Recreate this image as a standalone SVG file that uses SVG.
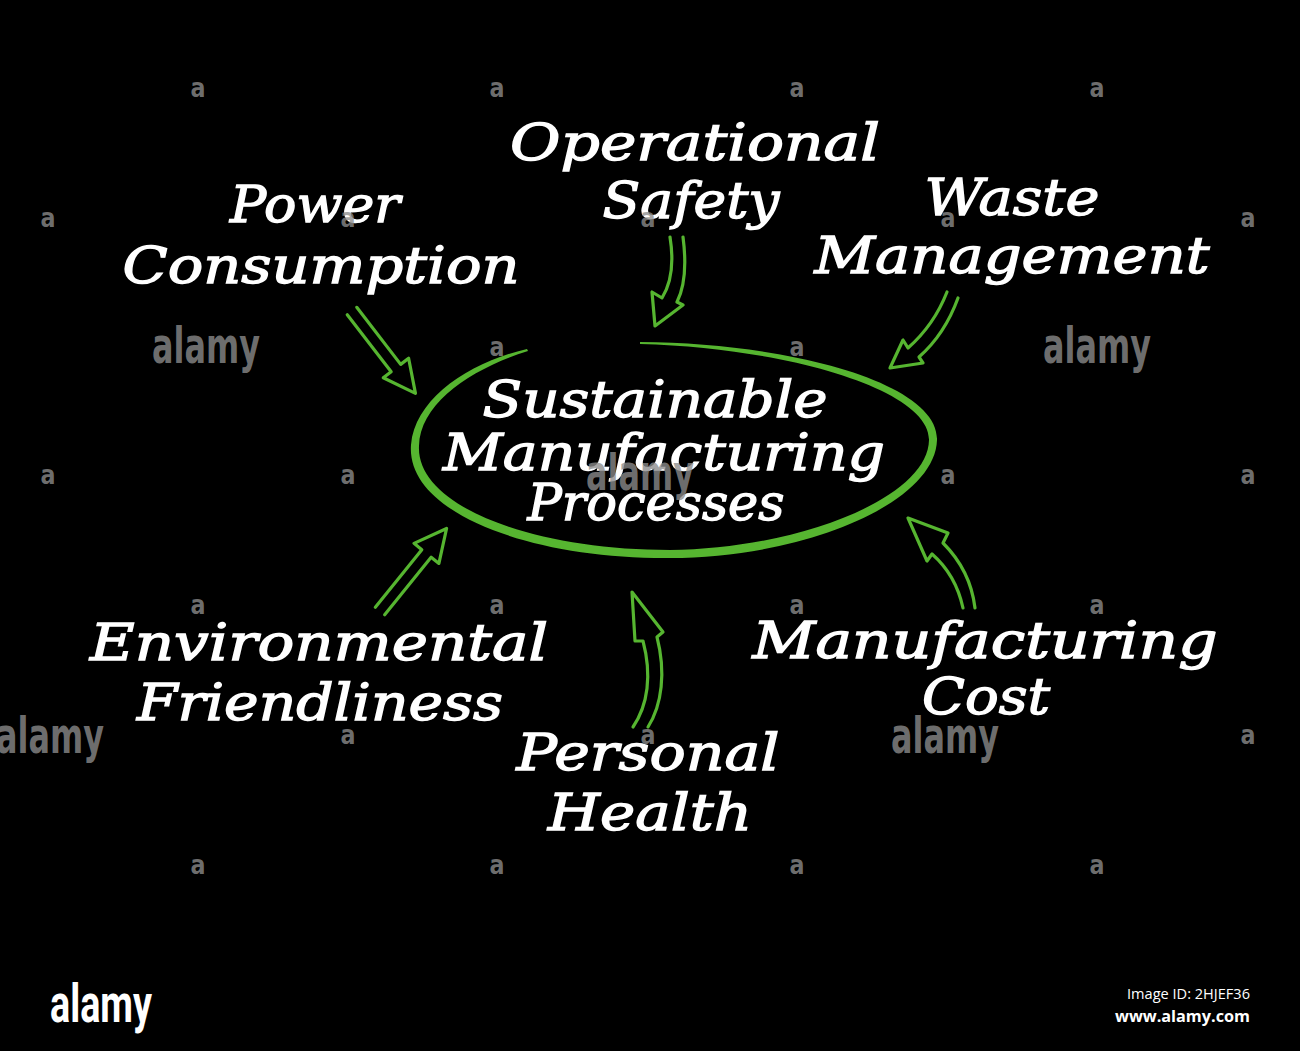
<svg xmlns="http://www.w3.org/2000/svg" width="1300" height="1051" viewBox="0 0 1300 1051">
<defs>
<style>
.lbl{font-family:"DejaVu Serif","Liberation Serif",serif;font-style:italic;font-size:50px;fill:#ffffff;stroke:#ffffff;stroke-width:1.3;text-anchor:middle}
.arr{fill:none;stroke:#56b530;stroke-width:3.2;stroke-linejoin:round;stroke-linecap:round}
.wm{font-family:"DejaVu Sans","Liberation Sans",sans-serif;font-weight:bold;fill:#8c8c8c;fill-opacity:0.8;text-anchor:middle}
.wa{font-size:26px}
.wb{font-size:50px}
.foot{font-family:"Open Sans","DejaVu Sans",sans-serif;fill:#ffffff}
</style>
</defs>
<rect x="0" y="0" width="1300" height="1051" fill="#000000"/>

<g id="connectors">
<path class="arr" transform="translate(352,311) rotate(52.4)" d="M0,-6 L72,-6 L72,-16 L104,0 L72,16 L72,6 L0,6"/>
<path class="arr" transform="translate(380,611) rotate(-51.1)" d="M0,-6 L74,-6 L74,-16 L106,0 L74,16 L74,6 L0,6"/>
<path class="arr" d="M670,237 C674,262 672,282 662,298 L652,292 L655,326 L683,305 L677,302 C686,284 686,260 683,237"/>
<path class="arr" d="M947,292 C938,315 925,333 908,348 L903,340 L890,368 L923,363 L919,357 C936,342 950,320 958,298"/>
<path class="arr" d="M633,727 C648,705 652,675 643,641 L635,641 L632,592 L663,632 L657,637 C666,672 662,705 648,727"/>
<path class="arr" d="M963,608 C958,585 948,568 932,554 L927,561 L908,518 L948,533 L943,543 C960,560 972,583 975,608"/>
</g>

<g id="center">
<path fill="#56b530" d="M640,342 C790,343 939,383 937,440 C935,504 802,558 670,558 C528,559 406,512 411,445 C415,398 470,362 527,349 L528,351 C474,368 420,402 419,446 C416,506 532,550 670,550 C798,549 928,498 929,440 C930,390 788,348 640,344 Z"/>
<text class="lbl" x="655" y="417" textLength="345" lengthAdjust="spacingAndGlyphs">Sustainable</text>
<text class="lbl" x="664" y="470" textLength="442" lengthAdjust="spacingAndGlyphs">Manufacturing</text>
<text class="lbl" x="656" y="520" textLength="257" lengthAdjust="spacingAndGlyphs">Processes</text>
</g>

<g id="power">
<text class="lbl" x="315" y="222" textLength="170" lengthAdjust="spacingAndGlyphs">Power</text>
<text class="lbl" x="321" y="283" textLength="397" lengthAdjust="spacingAndGlyphs">Consumption</text>
</g>
<g id="safety">
<text class="lbl" x="695" y="160" textLength="370" lengthAdjust="spacingAndGlyphs">Operational</text>
<text class="lbl" x="691" y="218" textLength="177" lengthAdjust="spacingAndGlyphs">Safety</text>
</g>
<g id="waste">
<text class="lbl" x="1012" y="215" textLength="175" lengthAdjust="spacingAndGlyphs">Waste</text>
<text class="lbl" x="1012" y="273" textLength="395" lengthAdjust="spacingAndGlyphs">Management</text>
</g>
<g id="environment">
<text class="lbl" x="319" y="660" textLength="458" lengthAdjust="spacingAndGlyphs">Environmental</text>
<text class="lbl" x="320" y="720" textLength="366" lengthAdjust="spacingAndGlyphs">Friendliness</text>
</g>
<g id="cost">
<text class="lbl" x="985" y="658" textLength="465" lengthAdjust="spacingAndGlyphs">Manufacturing</text>
<text class="lbl" x="986" y="714" textLength="128" lengthAdjust="spacingAndGlyphs">Cost</text>
</g>
<g id="health">
<text class="lbl" x="648" y="770" textLength="263" lengthAdjust="spacingAndGlyphs">Personal</text>
<text class="lbl" x="650" y="830" textLength="204" lengthAdjust="spacingAndGlyphs">Health</text>
</g>

<g id="watermark">
<text class="wm wa" x="198" y="97" textLength="15" lengthAdjust="spacingAndGlyphs">a</text>
<text class="wm wa" x="497" y="97" textLength="15" lengthAdjust="spacingAndGlyphs">a</text>
<text class="wm wa" x="797" y="97" textLength="15" lengthAdjust="spacingAndGlyphs">a</text>
<text class="wm wa" x="1097" y="97" textLength="15" lengthAdjust="spacingAndGlyphs">a</text>
<text class="wm wa" x="48" y="227" textLength="15" lengthAdjust="spacingAndGlyphs">a</text>
<text class="wm wa" x="348" y="227" textLength="15" lengthAdjust="spacingAndGlyphs">a</text>
<text class="wm wa" x="648" y="227" textLength="15" lengthAdjust="spacingAndGlyphs">a</text>
<text class="wm wa" x="948" y="227" textLength="15" lengthAdjust="spacingAndGlyphs">a</text>
<text class="wm wa" x="1248" y="227" textLength="15" lengthAdjust="spacingAndGlyphs">a</text>
<text class="wm wa" x="497" y="356" textLength="15" lengthAdjust="spacingAndGlyphs">a</text>
<text class="wm wa" x="797" y="356" textLength="15" lengthAdjust="spacingAndGlyphs">a</text>
<text class="wm wa" x="48" y="484" textLength="15" lengthAdjust="spacingAndGlyphs">a</text>
<text class="wm wa" x="348" y="484" textLength="15" lengthAdjust="spacingAndGlyphs">a</text>
<text class="wm wa" x="948" y="484" textLength="15" lengthAdjust="spacingAndGlyphs">a</text>
<text class="wm wa" x="1248" y="484" textLength="15" lengthAdjust="spacingAndGlyphs">a</text>
<text class="wm wa" x="198" y="614" textLength="15" lengthAdjust="spacingAndGlyphs">a</text>
<text class="wm wa" x="497" y="614" textLength="15" lengthAdjust="spacingAndGlyphs">a</text>
<text class="wm wa" x="797" y="614" textLength="15" lengthAdjust="spacingAndGlyphs">a</text>
<text class="wm wa" x="1097" y="614" textLength="15" lengthAdjust="spacingAndGlyphs">a</text>
<text class="wm wa" x="348" y="744" textLength="15" lengthAdjust="spacingAndGlyphs">a</text>
<text class="wm wa" x="648" y="744" textLength="15" lengthAdjust="spacingAndGlyphs">a</text>
<text class="wm wa" x="1248" y="744" textLength="15" lengthAdjust="spacingAndGlyphs">a</text>
<text class="wm wa" x="198" y="874" textLength="15" lengthAdjust="spacingAndGlyphs">a</text>
<text class="wm wa" x="497" y="874" textLength="15" lengthAdjust="spacingAndGlyphs">a</text>
<text class="wm wa" x="797" y="874" textLength="15" lengthAdjust="spacingAndGlyphs">a</text>
<text class="wm wa" x="1097" y="874" textLength="15" lengthAdjust="spacingAndGlyphs">a</text>
<text class="wm wb" x="206" y="363" textLength="108" lengthAdjust="spacingAndGlyphs">alamy</text>
<text class="wm wb" x="1097" y="363" textLength="108" lengthAdjust="spacingAndGlyphs">alamy</text>
<text class="wm wb" x="640" y="490" textLength="108" lengthAdjust="spacingAndGlyphs">alamy</text>
<text class="wm wb" x="50" y="753" textLength="108" lengthAdjust="spacingAndGlyphs">alamy</text>
<text class="wm wb" x="945" y="753" textLength="108" lengthAdjust="spacingAndGlyphs">alamy</text>
</g>

<g id="footer">
<text x="50" y="1022" font-family="Roboto,'DejaVu Sans',sans-serif" font-weight="bold" font-size="54" fill="#ffffff" textLength="102" lengthAdjust="spacingAndGlyphs">alamy</text>
<text class="foot" x="1250" y="999" font-size="14" text-anchor="end" textLength="123" lengthAdjust="spacingAndGlyphs">Image ID: 2HJEF36</text>
<text class="foot" x="1250" y="1022" font-size="16" font-weight="bold" text-anchor="end" textLength="135" lengthAdjust="spacingAndGlyphs">www.alamy.com</text>
</g>
</svg>
